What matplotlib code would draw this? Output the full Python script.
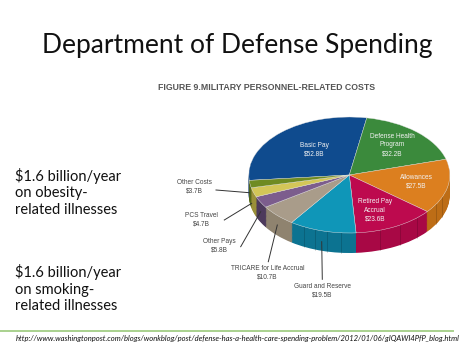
import numpy as np
import matplotlib
matplotlib.use('Agg')
import matplotlib.pyplot as plt

W, H = 474, 355

categories = ['Basic Pay', 'Defense Health Program', 'Allowances', 'Retired Pay Accrual',
              'Guard and Reserve', 'TRICARE for Life Accrual', 'Other Pays', 'PCS Travel', 'Other Costs']
values = [52.8, 32.2, 27.5, 23.6, 19.5, 10.7, 5.8, 4.7, 3.7]
top_colors = ['#0f4b8e', '#3b8a3c', '#dc7f1f', '#bd0a4e', '#0f96b8', '#a99c8a', '#7c5d8d', '#d3c658', '#6f8b22']
side_colors = ['#0b3566', '#2a642b', '#bd6d16', '#a80845', '#0c7391', '#8f836f', '#4d3a5c', '#9a9038', '#55691a']

url = 'http://www.washingtonpost.com/blogs/wonkblog/post/defense-has-a-health-care-spending-problem/2012/01/06/gIQAWI4PfP_blog.html'
rib_angles = [-22, -30, -48, -60, -72, -95, -103, -110, -117]

plt.rcParams['font.family'] = ['Lato', 'DejaVu Sans']
fig = plt.figure(figsize=(W / 100, H / 100), dpi=100)
fig.patch.set_facecolor('white')

# the pie gets its own axes, squashed so the circle becomes an ellipse
cx, cy, rx, ry = 349.3, 175, 100.5, 58
depth = 20 / ry
ax = fig.add_axes([(cx - rx) / W, 1 - (cy + 1.5 * ry) / H, 2 * rx / W, 2.5 * ry / H])

# stack of darker pies makes the rim
for off in np.linspace(depth, 0.01, 25):
    ax.pie(values, colors=side_colors, startangle=185.3, counterclock=False,
           center=(0, -off), wedgeprops={'linewidth': 0})
for a in rib_angles:
    xr, yr = np.cos(np.radians(a)), np.sin(np.radians(a))
    ax.plot([xr, xr], [yr, yr - depth], color='#000000', alpha=0.18, lw=0.6)
ax.pie(values, colors=top_colors, startangle=185.3, counterclock=False,
       wedgeprops={'linewidth': 0.3, 'edgecolor': '#e8e8e8'})
ax.set_aspect('auto')
ax.set_xlim(-1, 1)
ax.set_ylim(-1.5, 1)
ax.axis('off')
for p in ax.patches:
    p.set_clip_on(False)

# overlay in pixel coords for all the text
ov = fig.add_axes([0, 0, 1, 1])
ov.set_xlim(0, W)
ov.set_ylim(H, 0)
ov.axis('off')

ov.text(237.5, 45, 'Department of Defense Spending', fontsize=19, color='#111111', ha='center', va='center')
ov.text(158, 88, 'FIGURE 9.MILITARY PERSONNEL-RELATED COSTS', fontsize=6.35, color='#555555',
        family=['Liberation Sans'], fontweight='bold', va='center')

for y, line in zip([176, 193, 210], ['$1.6 billion/year', 'on obesity-', 'related illnesses']):
    ov.text(15, y, line, fontsize=10.5, color='#111111', va='center')
for y, line in zip([272, 290, 306], ['$1.6 billion/year', 'on smoking-', 'related illnesses']):
    ov.text(15, y, line, fontsize=10.5, color='#111111', va='center')

inside = [(314, 150, 'Basic Pay\n$52.8B'), (392, 145, 'Defense Health\nProgram\n$32.2B'),
          (416, 182, 'Allowances\n$27.5B'), (375, 210, 'Retired Pay\nAccrual\n$23.6B')]
for x, y, s in inside:
    ov.text(x, y, s, fontsize=4.7, color='#f2f2f2', ha='center', va='center',
            family=['Liberation Sans'], linespacing=1.35)

outside = [(194, 187, 'Other Costs\n$3.7B'), (201.3, 220, 'PCS Travel\n$4.7B'), (219.3, 246, 'Other Pays\n$5.8B'),
           (267.3, 273, 'TRICARE for Life Accrual\n$10.7B'), (322.3, 291, 'Guard and Reserve\n$19.5B')]
for x, y, s in outside:
    ov.text(x, y, s, fontsize=4.7, color='#444444', ha='center', va='center',
            family=['Liberation Sans'], linespacing=1.35)

leaders = [((216, 190), (249.3, 192.7)), ((224.3, 220), (251.7, 203.3)), ((240.7, 246.7), (260.7, 211.7)),
           ((268.3, 261.7), (277.3, 225)), ((322.3, 279.3), (321.7, 241.7))]
for a, b in leaders:
    ov.plot([a[0], b[0]], [a[1], b[1]], color='#333333', lw=0.7)

ov.plot([0, 453], [331, 331], color='#a9d18e', lw=1.4)
ov.text(16, 338.5, url, fontsize=5.48, style='italic', color='#111111', va='center')

fig.savefig('out.png', dpi=100)
